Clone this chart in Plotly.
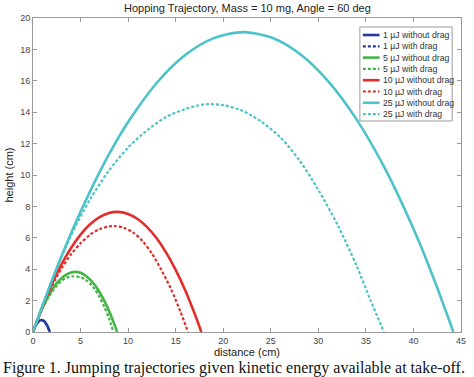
import plotly.graph_objects as go

# ---- data ----
x_1_nd = [0, 0.2, 0.4, 0.6, 0.885, 1.1, 1.3, 1.5, 1.7, 1.77]
y_1_nd = [0, 0.31, 0.54, 0.69, 0.765, 0.72, 0.60, 0.40, 0.12, 0]
x_1_d = [0, 0.2, 0.4, 0.6, 0.87, 1.1, 1.3, 1.5, 1.74]
y_1_d = [0, 0.31, 0.53, 0.68, 0.75, 0.70, 0.57, 0.36, 0]

x_5_nd = [0, 0.5, 1, 1.5, 2, 2.5, 3, 3.5, 4, 4.425, 5, 5.5, 6, 6.5, 7, 7.5, 8, 8.5, 8.85]
y_5_nd = [0, 0.82, 1.54, 2.16, 2.68, 3.11, 3.43, 3.66, 3.79, 3.83, 3.77, 3.60, 3.34, 2.99, 2.53, 1.98, 1.33, 0.58, 0]
x_5_d = [0, 0.5, 1, 1.5, 2, 2.5, 3, 3.5, 4.2, 5, 5.5, 6, 6.5, 7, 7.5, 8, 8.45]
y_5_d = [0, 0.80, 1.50, 2.08, 2.55, 2.95, 3.25, 3.45, 3.55, 3.48, 3.33, 3.08, 2.72, 2.22, 1.60, 0.85, 0]

x_10_nd = [0, 1, 2, 3, 4, 5, 6, 7, 8, 8.85, 10, 11, 12, 13, 14, 15, 16, 17, 17.7]
y_10_nd = [0, 1.63, 3.07, 4.31, 5.35, 6.20, 6.86, 7.32, 7.58, 7.65, 7.52, 7.20, 6.68, 5.97, 5.06, 3.96, 2.66, 1.16, 0]
x_10_d = [0, 1, 2, 3, 4, 5, 6, 7, 8, 8.6, 9.5, 10.5, 11.5, 12.5, 13.5, 14.5, 15.5, 16.3]
y_10_d = [0, 1.60, 2.95, 4.05, 4.95, 5.65, 6.20, 6.55, 6.73, 6.75, 6.65, 6.35, 5.80, 5.00, 3.95, 2.75, 1.30, 0]

x_25_nd = [0, 2, 4, 6, 8, 10, 13, 16, 19, 22.1, 25, 28, 31, 34, 37, 40, 42, 44.2]
y_25_nd = [0, 3.30, 6.29, 8.96, 11.33, 13.37, 15.86, 17.64, 18.72, 19.10, 18.77, 17.74, 16.00, 13.56, 10.42, 6.57, 3.61, 0]
x_25_d = [0, 2, 4, 6, 8, 10, 12, 14, 16, 18, 20, 22, 24, 26, 28, 30, 32, 34, 35.5, 36.9]
y_25_d = [0, 3.30, 6.15, 8.45, 10.3, 11.75, 12.85, 13.7, 14.2, 14.5, 14.45, 14.1, 13.4, 12.4, 10.95, 9.05, 6.85, 4.25, 2.0, 0]

x_ticks = [0, 5, 10, 15, 20, 25, 30, 35, 40, 45]
y_ticks = [0, 2, 4, 6, 8, 10, 12, 14, 16, 18, 20]

series = [
    ("1 \u00b5J without drag", x_1_nd, y_1_nd, "#243a9c", "solid"),
    ("1 \u00b5J with drag", x_1_d, y_1_d, "#243a9c", "dash"),
    ("5 \u00b5J without drag", x_5_nd, y_5_nd, "#45b545", "solid"),
    ("5 \u00b5J with drag", x_5_d, y_5_d, "#45b545", "dash"),
    ("10 \u00b5J without drag", x_10_nd, y_10_nd, "#e02f2a", "solid"),
    ("10 \u00b5J with drag", x_10_d, y_10_d, "#e02f2a", "dash"),
    ("25 \u00b5J without drag", x_25_nd, y_25_nd, "#4cc3c9", "solid"),
    ("25 \u00b5J with drag", x_25_d, y_25_d, "#4cc3c9", "dash"),
]

FONT = "Liberation Sans, Arial, sans-serif"

fig = go.Figure()
for name, xs, ys, col, style in series:
    fig.add_trace(go.Scatter(
        x=xs, y=ys, name=name, mode="lines", showlegend=False,
        line=dict(color=col, width=2.6 if style == "solid" else 2.2,
                  dash="solid" if style == "solid" else "3px,2px",
                  shape="spline", smoothing=0.8),
    ))

# ---- compact MATLAB-style legend box (paper coordinates) ----
PW, PH = 436.0, 314.0  # plot area size in px
def px(X):
    return (X - 30) / PW
def py(Y):
    return (332 - Y) / PH

shapes = [dict(type="rect", xref="paper", yref="paper",
               x0=px(363), x1=px(457), y0=py(121), y1=py(27),
               line=dict(color="#9a9a9a", width=1), fillcolor="white", layer="above")]
annotations = []
row0, step = 35.0, 11.3
for i, (name, xs, ys, col, style) in enumerate(series):
    Y = row0 + i * step
    shapes.append(dict(type="line", xref="paper", yref="paper",
                       x0=px(366), x1=px(383), y0=py(Y), y1=py(Y),
                       line=dict(color=col, width=2.6 if style == "solid" else 2.2,
                                 dash="solid" if style == "solid" else "3px,2px"),
                       layer="above"))
    annotations.append(dict(text=name, xref="paper", yref="paper",
                            x=px(384), y=py(Y), xanchor="left", yanchor="middle",
                            showarrow=False,
                            font=dict(family=FONT, size=8.7, color="#333")))

axis_common = dict(
    showline=True, linecolor="#9a9a9a", linewidth=1, mirror="ticks",
    ticks="inside", ticklen=4, tickcolor="#9a9a9a",
    showgrid=False, zeroline=False,
    tickfont=dict(family=FONT, size=9, color="#444"),
)

annotations += [
    dict(text="Hopping Trajectory, Mass = 10 mg, Angle = 60 deg",
         xref="paper", yref="paper", x=0.5, y=1.0, yshift=2,
         xanchor="center", yanchor="bottom", showarrow=False,
         font=dict(family=FONT, size=11, color="#222")),
    dict(text="distance (cm)",
         xref="paper", yref="paper", x=0.5, y=0, yshift=-12,
         xanchor="center", yanchor="top", showarrow=False,
         font=dict(family=FONT, size=11, color="#222")),
    dict(text="Figure 1. Jumping trajectories given kinetic energy available at take-off.",
         xref="paper", yref="paper", x=0.47, y=0, yshift=-25,
         xanchor="center", yanchor="top", showarrow=False,
         font=dict(family="Liberation Serif, Times New Roman, serif", size=16, color="#111")),
]

fig.update_layout(
    width=474, height=377,
    margin=dict(l=30, r=8, t=18, b=45),
    paper_bgcolor="white", plot_bgcolor="white",
    showlegend=False,
    xaxis=dict(range=[0, 45], tickvals=x_ticks, **axis_common),
    yaxis=dict(range=[0, 20], tickvals=y_ticks, **axis_common,
               title=dict(text="height (cm)", standoff=4,
                          font=dict(family=FONT, size=11, color="#222"))),
    shapes=shapes,
    annotations=annotations,
)

fig.write_html("out.html")
